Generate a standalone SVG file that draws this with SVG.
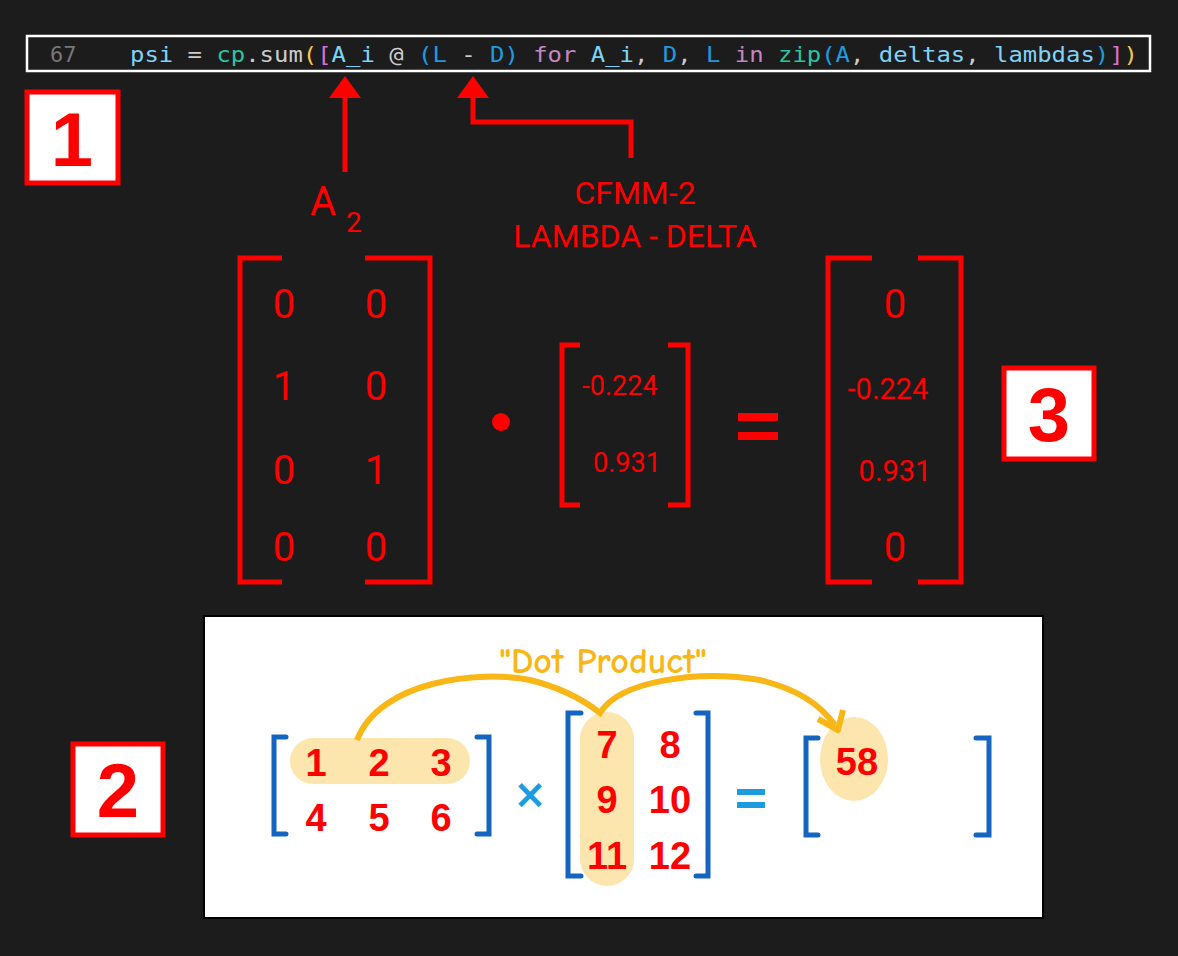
<svg xmlns="http://www.w3.org/2000/svg" width="1178" height="956" viewBox="0 0 1178 956">
<style>
.r{fill:#f00;font-family:Roboto,"Liberation Sans",sans-serif}
.br{fill:none;stroke:#f00;stroke-width:5}
.bb{fill:none;stroke:#1565c0;stroke-width:5;stroke-linecap:round}
.n{fill:#f00;font-family:"Liberation Sans",sans-serif;font-weight:bold;font-size:38px;text-anchor:middle}
.box{fill:#fff;stroke:#f00;stroke-width:5}
.lab{fill:#f00;font-family:"Liberation Sans",sans-serif;font-weight:bold;font-size:76px;text-anchor:middle}
</style>
<rect width="1178" height="956" fill="#1c1c1c"/>
<g id="code">
<rect x="27" y="36" width="1123" height="35" fill="none" stroke="#fff" stroke-width="2.5"/>
<text x="50" y="62" font-family="'DejaVu Sans Mono','Liberation Mono',monospace" font-size="22" fill="#777">67</text>
<text x="130" y="62" font-family="'DejaVu Sans Mono','Liberation Mono',monospace" font-size="22" textLength="1008" lengthAdjust="spacingAndGlyphs" xml:space="preserve"><tspan fill="#7fd3f7">psi</tspan><tspan fill="#ccc"> = </tspan><tspan fill="#2bc4a0">cp</tspan><tspan fill="#ccc">.sum</tspan><tspan fill="#f2c94c">(</tspan><tspan fill="#d670d6">[</tspan><tspan fill="#7fd3f7">A_i</tspan><tspan fill="#ccc"> @ </tspan><tspan fill="#1e9be0">(</tspan><tspan fill="#1e9be0">L</tspan><tspan fill="#ccc"> - </tspan><tspan fill="#1e9be0">D</tspan><tspan fill="#1e9be0">)</tspan><tspan fill="#c586c0"> for </tspan><tspan fill="#7fd3f7">A_i</tspan><tspan fill="#ccc">, </tspan><tspan fill="#1e9be0">D</tspan><tspan fill="#ccc">, </tspan><tspan fill="#1e9be0">L</tspan><tspan fill="#c586c0"> in </tspan><tspan fill="#2bc4a0">zip</tspan><tspan fill="#1e9be0">(</tspan><tspan fill="#1e9be0">A</tspan><tspan fill="#ccc">, </tspan><tspan fill="#7fd3f7">deltas</tspan><tspan fill="#ccc">, </tspan><tspan fill="#7fd3f7">lambdas</tspan><tspan fill="#1e9be0">)</tspan><tspan fill="#d670d6">]</tspan><tspan fill="#f2c94c">)</tspan></text>
</g>
<g id="connectors">
<path d="M345,172 V95" stroke="#f00" stroke-width="5" fill="none"/>
<path d="M329,98 L345,76 L361,98 Z" fill="#f00"/>
<path d="M631,158 V122 H473 V95" stroke="#f00" stroke-width="5" fill="none"/>
<path d="M457,98 L473,76 L489,98 Z" fill="#f00"/>
</g>
<g id="label1"><rect class="box" x="27" y="92" width="91" height="91"/><text class="lab" x="72" y="166">1</text></g>
<g id="label3"><rect class="box" x="1004" y="368" width="90" height="91"/><text class="lab" x="1049" y="441">3</text></g>
<g id="label2"><rect class="box" x="73" y="744" width="90" height="91"/><text class="lab" x="118" y="817">2</text></g>
<g id="a2"><text class="r" x="310" y="215" font-size="40">A</text><text class="r" x="346" y="232" font-size="28">2</text></g>
<g id="cfmm"><text class="r" x="635" y="204" font-size="32" text-anchor="middle">CFMM-2</text><text class="r" x="635" y="247" font-size="32" text-anchor="middle">LAMBDA - DELTA</text></g>
<g id="matrixA">
<path class="br" d="M282,258 H240 V582 H282"/>
<path class="br" d="M365,258 H430 V582 H365"/>
<g class="r" font-size="40" text-anchor="middle">
<text x="284" y="318">0</text><text x="376" y="318">0</text>
<text x="284" y="400">1</text><text x="376" y="400">0</text>
<text x="284" y="484">0</text><text x="376" y="484">1</text>
<text x="284" y="561">0</text><text x="376" y="561">0</text>
</g></g>
<circle cx="501" cy="422" r="9" fill="#f00"/>
<g id="vec">
<path class="br" d="M580,345 H562 V505 H580"/>
<path class="br" d="M668,345 H688 V505 H668"/>
<text class="r" x="620" y="395" font-size="27" text-anchor="middle">-0.224</text>
<text class="r" x="627" y="472" font-size="27" text-anchor="middle">0.931</text>
</g>
<g id="eq"><rect x="738" y="413" width="40" height="8" fill="#f00"/><rect x="738" y="432" width="40" height="8" fill="#f00"/></g>
<g id="result">
<path class="br" d="M872,258 H828 V582 H872"/>
<path class="br" d="M918,258 H961 V582 H918"/>
<g class="r" text-anchor="middle">
<text x="895" y="318" font-size="40">0</text>
<text x="888" y="399" font-size="29">-0.224</text>
<text x="895" y="481" font-size="29">0.931</text>
<text x="895" y="561" font-size="40">0</text>
</g></g>
<g id="example">
<rect x="204" y="616" width="839" height="302" fill="#fff" stroke="#000" stroke-width="2"/>
<rect x="290" y="738" width="180" height="46" rx="23" fill="#fde6ad"/>
<rect x="580" y="712" width="54" height="174" rx="27" fill="#fde6ad"/>
<ellipse cx="854" cy="759" rx="34" ry="42" fill="#fde6ad"/>
<path d="M357,740 C380,680 480,670 530,680 C570,690 590,705 600,713 C620,680 700,670 760,680 C800,690 820,705 835,725" fill="none" stroke="#f8b617" stroke-width="6"/>
<path d="M818,719 L838,730 L843,710" fill="none" stroke="#f8b617" stroke-width="6" stroke-linejoin="round"/>
<text x="603" y="673" text-anchor="middle" font-family="'Comic Neue','DejaVu Sans Condensed','DejaVu Sans',sans-serif" font-weight="bold" font-size="36" fill="#f8b617">"Dot Product"</text>
<path class="bb" d="M286,737 H274 V834 H286"/>
<path class="bb" d="M477,737 H489 V834 H477"/>
<path class="bb" d="M581,713 H568 V876 H581"/>
<path class="bb" d="M696,713 H708 V876 H696"/>
<path class="bb" d="M818,738 H806 V835 H818"/>
<path class="bb" d="M976,738 H989 V835 H976"/>
<text x="530" y="808" text-anchor="middle" font-family="'DejaVu Sans',sans-serif" font-weight="bold" font-size="40" fill="#1e9be0">×</text>
<rect x="737" y="789" width="28" height="6" fill="#1e9be0"/><rect x="737" y="802" width="28" height="6" fill="#1e9be0"/>
<text class="n" x="316" y="776">1</text><text class="n" x="379" y="776">2</text><text class="n" x="441" y="776">3</text>
<text class="n" x="316" y="831">4</text><text class="n" x="379" y="831">5</text><text class="n" x="441" y="831">6</text>
<text class="n" x="607" y="758">7</text><text class="n" x="670" y="758">8</text>
<text class="n" x="607" y="813">9</text><text class="n" x="670" y="813">10</text>
<text class="n" x="607" y="869">11</text><text class="n" x="670" y="869">12</text>
<text class="n" x="857" y="775">58</text>
</g>
</svg>
